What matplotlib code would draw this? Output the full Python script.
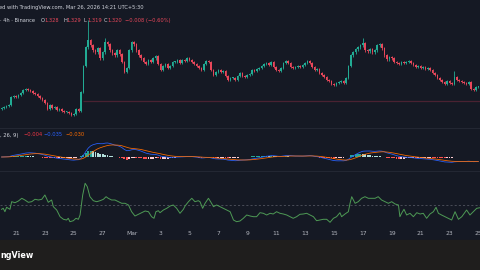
import numpy as np
import pandas as pd
import matplotlib
matplotlib.use("Agg")
import matplotlib.pyplot as plt
from matplotlib.patches import Rectangle
from matplotlib.lines import Line2D

# ---- data (4h candles) ----
closes = [
    1.278, 1.280, 1.282, 1.284, 1.300, 1.302, 1.300, 1.304, 1.308, 1.314, 1.316,
    1.314, 1.312, 1.308, 1.306, 1.302, 1.298, 1.294, 1.288, 1.276, 1.284,
    1.278, 1.280, 1.274, 1.276, 1.272, 1.270, 1.270, 1.268, 1.264, 1.266, 1.276,
    1.272, 1.310, 1.362, 1.400, 1.414, 1.404, 1.394, 1.390, 1.398, 1.378,
    1.390, 1.410, 1.406, 1.394, 1.388, 1.384, 1.394, 1.386, 1.370, 1.350, 1.358,
    1.394, 1.410, 1.406, 1.394, 1.384, 1.378, 1.370, 1.366, 1.374, 1.370, 1.378, 1.382,
    1.366, 1.354, 1.362, 1.366, 1.358, 1.362, 1.370, 1.370, 1.374, 1.368, 1.374, 1.372, 1.378,
    1.374, 1.370, 1.366, 1.362, 1.358, 1.354, 1.366, 1.372, 1.370, 1.354, 1.344,
    1.350, 1.354, 1.350, 1.352, 1.342, 1.334, 1.338, 1.338, 1.334, 1.342, 1.348,
    1.342, 1.340, 1.344, 1.346, 1.354, 1.352, 1.356, 1.358, 1.362,
    1.366, 1.368, 1.364, 1.370, 1.360, 1.354, 1.352, 1.358, 1.368, 1.372, 1.368,
    1.360, 1.358, 1.360, 1.362, 1.360, 1.364, 1.368, 1.372, 1.368, 1.360, 1.354, 1.356,
    1.348, 1.344, 1.340, 1.334, 1.332, 1.326, 1.324, 1.328, 1.330, 1.332, 1.328, 1.338,
    1.362, 1.384, 1.390, 1.396, 1.400, 1.404, 1.408, 1.394, 1.392, 1.396, 1.390,
    1.394, 1.404, 1.406, 1.398, 1.384, 1.376, 1.380, 1.378,
    1.370, 1.368, 1.366, 1.370, 1.368, 1.370, 1.372, 1.368, 1.364, 1.360, 1.362, 1.358,
    1.360, 1.356, 1.358, 1.354, 1.348, 1.344, 1.338, 1.334, 1.330, 1.326, 1.332,
    1.328, 1.326, 1.340, 1.334, 1.332, 1.330, 1.328, 1.326, 1.330, 1.316, 1.314,
    1.320, 1.320,
]
first_open = 1.276
special_highs = {36: 1.454, 43: 1.418, 150: 1.418, 188: 1.352}
ref_level = 1.2926

# RSI: (bar index, value)
rsi_bar = [0.0, 0.7, 1.4, 2.1, 3.5, 4.2, 5.6, 7.0, 8.4, 9.7, 11.1, 12.5, 13.9, 15.3,
           16.7, 18.0, 19.4, 20.8, 21.5, 22.9, 24.3, 25.7, 27.0, 27.7, 28.4, 29.8,
           30.9, 31.9, 32.6, 33.7, 34.7, 35.6, 36.7, 38.1, 39.5, 40.9, 42.3, 43.4,
           44.3, 45.7, 47.1, 48.5, 49.9, 51.3, 52.7, 54.0, 55.4, 56.8, 58.2, 59.6,
           61.0, 62.3, 63.3, 64.1, 65.1, 65.8, 67.2, 68.6, 70.0, 71.3, 72.7, 74.1,
           75.5, 76.2, 77.6, 79.0, 80.3, 81.7, 82.4, 83.5, 84.5, 85.9, 86.8, 88.0,
           89.3, 90.7, 92.1, 93.5, 94.9, 96.3, 97.6,
           99.0, 100.4, 101.8, 103.2, 104.6, 105.9, 107.3, 108.7, 110.1, 111.5,
           112.8, 114.2, 115.6, 117.0, 118.4, 119.8, 121.1, 122.5, 123.9, 125.3,
           126.7, 128.1, 129.5, 130.8, 132.2, 133.6, 135.0, 136.4, 137.8, 139.1,
           140.5, 141.2, 142.6, 144.0, 144.7, 145.4, 146.8, 148.1, 149.5, 150.9,
           152.3, 153.7, 155.1, 156.4, 157.8, 159.2, 160.6, 162.0, 163.4, 164.8,
           165.4, 166.1, 167.1, 168.2, 169.6, 171.0, 172.4, 173.8, 175.1, 176.5,
           177.9, 179.3, 180.4, 181.4, 182.7, 184.1, 185.5, 186.9, 188.3, 189.7,
           191.1, 193.1, 194.5, 195.9, 197.3, 198.7]
rsi_val = [45.7, 46.7, 43.3, 47.7, 45.7, 53.3, 52.3, 54.0, 56.7, 55.0, 52.7, 53.3, 55.7, 55.0,
           55.7, 60.0, 52.7, 55.0, 48.3, 45.0, 38.3, 35.7, 35.0, 36.7, 33.3, 34.3,
           36.7, 35.7, 40.0, 60.0, 71.7, 68.3, 58.3, 54.3, 53.3, 54.3, 55.7, 58.3,
           56.7, 55.0, 55.0, 53.3, 51.7, 51.7, 50.0, 43.3, 39.0, 40.7, 42.3, 44.0,
           43.3, 38.3, 36.7, 43.3, 44.3, 42.3, 45.0, 46.7, 49.0, 50.0, 46.7, 41.7,
           45.7, 49.0, 53.3, 56.7, 53.3, 54.3, 53.3, 46.7, 51.7, 56.7, 53.3, 48.3,
           50.0, 48.3, 46.7, 45.0, 43.3, 35.0, 33.3,
           34.0, 36.7, 40.0, 39.0, 38.3, 38.3, 42.3, 41.7, 40.0, 41.7,
           41.0, 43.3, 41.7, 41.0, 40.0, 38.3, 36.7, 38.3, 40.7, 41.0,
           41.7, 40.0, 38.3, 34.3, 35.0, 35.7, 35.7, 32.7, 36.7, 38.3,
           42.3, 38.3, 41.0, 43.3, 51.7, 58.3, 51.7, 53.3, 56.7, 58.3,
           56.7, 56.7, 56.7, 58.3, 55.0, 53.3, 51.7, 53.3, 51.0, 50.0,
           38.3, 41.7, 45.7, 40.0, 41.7, 38.3, 42.3, 41.0, 41.7, 36.7,
           41.0, 43.3, 47.7, 41.7, 40.0, 38.3, 36.7, 35.0, 43.3, 35.7,
           38.3, 45.0, 40.0, 43.3, 46.7, 47.3]

tick_days = [1, 3, 5, 7, 9, 11, 13, 15, 17, 19, 21, 23, 25, 27, 29, 31, 33]
tick_labels = ["21", "23", "25", "27", "Mar", "3", "5", "7", "9", "11", "13",
               "15", "17", "19", "21", "23", "25"]

# ---- derived ----
c = np.array(closes)
o = np.r_[first_open, c[:-1]]
n = len(c)
t = np.arange(n) / 6.0
hi = np.maximum(o, c) + 0.003
lo = np.minimum(o, c) - 0.003
for k, v in special_highs.items():
    hi[k] = v

s = pd.Series(c)
ema12 = s.ewm(span=12, adjust=False).mean()
ema26 = s.ewm(span=26, adjust=False).mean()
macd = ema12 - ema26
signal = macd.ewm(span=9, adjust=False).mean()
hist = macd - signal

# ---- style ----
BG = "#151924"
UP = "#22ab94"
DN = "#e8475a"
TXT = "#d1d4dc"
W, H = 480, 270
XL = (-0.107, 33.11)

fig = plt.figure(figsize=(4.8, 2.7), dpi=100, facecolor=BG)

def ax_px(top, bottom):
    a = fig.add_axes([0, 1 - bottom / H, 1, (bottom - top) / H])
    a.set_facecolor(BG)
    a.set_xlim(*XL)
    for sp in a.spines.values():
        sp.set_visible(False)
    a.set_xticks([])
    a.set_yticks([])
    return a

# price pane
axp = ax_px(0, 127)
axp.set_ylim(1.240, 1.494)
axp.hlines(ref_level, 5.64, XL[1], color="#4a2232", lw=0.9, zorder=1)
cols = np.where(c >= o, UP, DN)
axp.vlines(t, lo, hi, colors=cols, lw=0.6, zorder=2)
body_b = np.minimum(o, c)
body_h = np.maximum(np.abs(c - o), 0.0012)
axp.bar(t, body_h, bottom=body_b, width=0.11, color=cols, lw=0, zorder=3)

# macd pane
axm = ax_px(128, 170)
peak = macd.max()
sc = peak / 14.0
axm.set_ylim(-13 * sc, 29 * sc)
hcols = []
for i in range(n):
    prev = hist.iloc[i - 1] if i > 0 else 0
    h = hist.iloc[i]
    if h >= 0:
        hcols.append("#26a69a" if h >= prev else "#b2dfdb")
    else:
        hcols.append("#ffcdd2" if h >= prev else "#ff5252")
axm.bar(t, hist * 0.8, width=0.13, color=hcols, lw=0, zorder=2)
axm.plot(t, macd, color="#2962ff", lw=0.55, zorder=3)
axm.plot(t, signal, color="#ff6d00", lw=0.55, zorder=3)

# rsi pane
axr = ax_px(172, 226)
axr.set_ylim(29, 83)
axr.axhline(50, color="#5d606b", lw=0.5, ls=(0, (3, 3)), zorder=1)
axr.plot(np.array(rsi_bar) / 6.0, rsi_val, color="#4e9a55", lw=0.7, zorder=2)
axr.set_xticks(tick_days)
axr.set_xticklabels(tick_labels)
axr.tick_params(axis="x", length=0, pad=3.5, labelsize=4.3, labelcolor="#b2b5be")

# separators
for yy in (127.5, 171):
    fig.add_artist(Line2D([0, 1], [1 - yy / H] * 2, color="#232733", lw=0.8,
                          transform=fig.transFigure))

# bottom band
fig.add_artist(Rectangle((0, 0), 1, 30 / H, transform=fig.transFigure,
                         color="#1f1e1d", zorder=0))
fig.text(0 / W, 1 - 256 / H, "ngView", color="white", fontsize=5.8,
         fontweight="bold", va="center", ha="left")

# header texts
def ftxt(x, y, s_, col, fs=3.7, **kw):
    fig.text(x / W, 1 - y / H, s_, color=col, fontsize=fs, va="center", ha="left", **kw)

ftxt(-1, 7, "ed with TradingView.com, Mar 26, 2026 14:21 UTC+5:30", TXT)
ftxt(0, 21, "· 4h · Binance", TXT)
ftxt(41, 21, "O", TXT); ftxt(44, 21, "1.328", DN)
ftxt(63, 21, "H", TXT); ftxt(66, 21, "1.329", DN)
ftxt(84, 21, "L", TXT); ftxt(87, 21, "1.319", DN)
ftxt(104, 21, "C", TXT); ftxt(107, 21, "1.320", DN)
ftxt(125, 21, "−0.008 (−0.60%)", DN)

ftxt(0, 135, ", 26, 9)", TXT)
ftxt(23, 135, "−0.004", "#f23645")
ftxt(43, 135, "−0.035", "#2962ff")
ftxt(65, 135, "−0.030", "#ff6d00")

fig.savefig("out.png", dpi=100, facecolor=BG)
